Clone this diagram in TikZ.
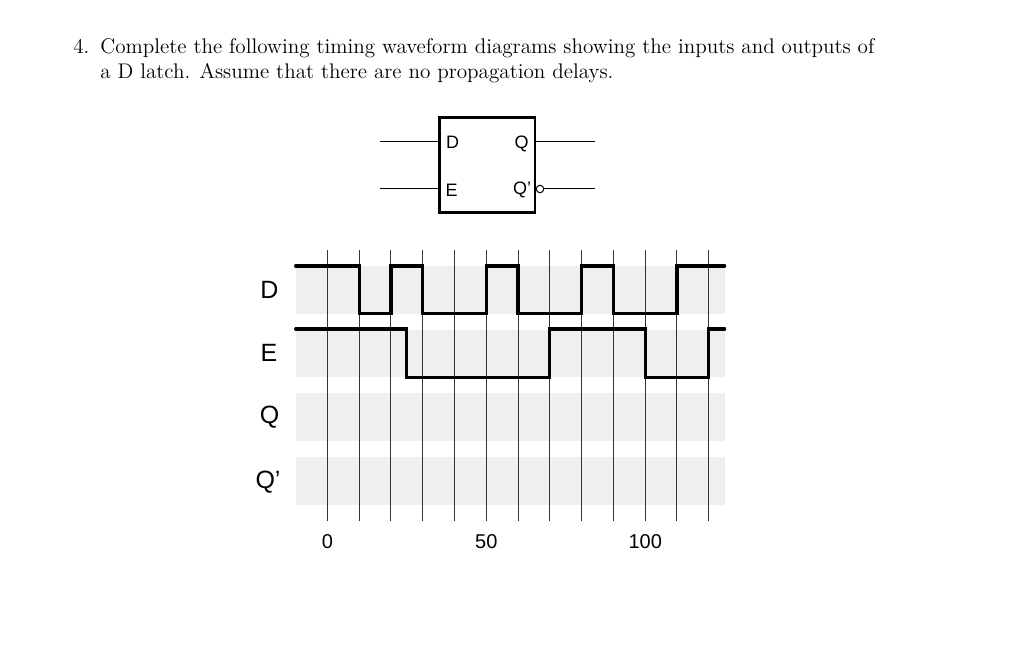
\documentclass[tikz,border=0pt]{standalone}
\usepackage{fontspec}
\newfontfamily\helv{Liberation Sans}
\usetikzlibrary{positioning}
\definecolor{bandgray}{HTML}{EFEFEF}

\tikzset{
  prose/.style={anchor=base west,inner sep=0pt,scale=1.762,font=\fontsize{12}{14.5}\selectfont},
  pin/.style={inner sep=0pt,font=\helv\fontsize{18}{21}\selectfont},
  rowname/.style={inner sep=0pt,font=\helv\fontsize{25}{29}\selectfont},
  ticknum/.style={inner sep=0pt,font=\helv\fontsize{20}{24}\selectfont},
  band/.style={fill=bandgray,draw=none},
  gridline/.style={draw=black!80,line width=1pt},
  wave/.style={line width=3.2pt,line cap=round,line join=miter},
  wire/.style={line width=1pt}
}

\begin{document}
\begin{tikzpicture}[x=1pt,y=-1pt]
\useasboundingbox (0,0) rectangle (1024,660);

\node[prose] (num) at (73,54) {4.};
\node[prose] (lineA) at (100,54) {Complete the following timing waveform diagrams showing the inputs and outputs of};
\node[prose] (lineB) at (100,79) {a D latch. Assume that there are no propagation delays.};

% latch
\node[draw,line width=2.8pt,minimum width=95.5pt,minimum height=95.5pt,inner sep=0pt] (latch) at (487.2,165) {};
\node[pin] (pinD) at (452.5,142) {D};
\node[pin] (pinE) at (451.5,190) {E};
\node[pin] (pinQ) at (521.5,144) {Q};
\node[pin] (pinNQ) at (522,190) {Q’};
\node[draw,circle,line width=1pt,minimum size=7.5pt,inner sep=0pt] (bubble) at (540,189) {};

\coordinate (inD) at (379.5,141.5);
\coordinate (inE) at (379.5,189);
\coordinate (outQ) at (595,141.5);
\coordinate (outNQ) at (595,189);
\coordinate (latchD) at (latch.west |- inD);
\coordinate (latchE) at (latch.west |- inE);
\coordinate (latchQ) at (latch.east |- outQ);

\draw[wire] (inD) -- (latchD);
\draw[wire] (inE) -- (latchE);
\draw[wire] (latchQ) -- (outQ);
\draw[wire] (bubble) -- (outNQ);

% rows
\fill[band] (295.5,266) rectangle (725,313.7);
\fill[band] (295.5,329.5) rectangle (725,377.3);
\fill[band] (295.5,393) rectangle (725,441);
\fill[band] (295.5,457) rectangle (725,505);

\node[rowname] (nameD) at (269.5,290) {D};
\node[rowname] (nameE) at (269,353) {E};
\node[rowname] (nameQ) at (269.5,417.5) {Q};
\node[rowname] (nameNQ) at (268,482) {Q’};

\begin{scope}[shift={(327.4,0)},x=3.178pt]
\draw[gridline] (0,250) -- (0,521);
\draw[gridline] (10,250) -- (10,521);
\draw[gridline] (20,250) -- (20,521);
\draw[gridline] (30,250) -- (30,521);
\draw[gridline] (40,250) -- (40,521);
\draw[gridline] (50,250) -- (50,521);
\draw[gridline] (60,250) -- (60,521);
\draw[gridline] (70,250) -- (70,521);
\draw[gridline] (80,250) -- (80,521);
\draw[gridline] (90,250) -- (90,521);
\draw[gridline] (100,250) -- (100,521);
\draw[gridline] (110,250) -- (110,521);
\draw[gridline] (120,250) -- (120,521);

\draw[wave] (-10,266) -- (10,266) -- (10,313.7) -- (20,313.7) -- (20,266) -- (30,266)
  -- (30,313.7) -- (50,313.7) -- (50,266) -- (60,266) -- (60,313.7) -- (80,313.7)
  -- (80,266) -- (90,266) -- (90,313.7) -- (110,313.7) -- (110,266) -- (125,266);
\draw[wave] (-10,329) -- (25,329) -- (25,377.3) -- (70,377.3) -- (70,329) -- (100,329)
  -- (100,377.3) -- (120,377.3) -- (120,329) -- (125,329);

\node[ticknum] (tick0) at (0,542) {0};
\node[ticknum] (tick50) at (50,542) {50};
\node[ticknum] (tick100) at (100,542) {100};
\end{scope}

\end{tikzpicture}
\end{document}
